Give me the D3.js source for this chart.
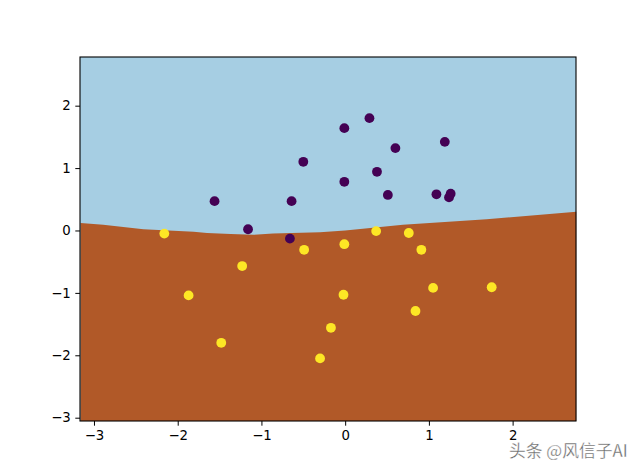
<!DOCTYPE html>
<html>
<head>
<meta charset="utf-8">
<script src="https://d3js.org/d3.v7.min.js"></script>
<style>
html, body { margin: 0; padding: 0; background: white; }
svg { display: block; }
.tick text { font-family: "DejaVu Sans", sans-serif; font-size: 13.3px; fill: #000; }
</style>
</head>
<body>
<div id="chart"></div>
<script>
// Decision regions with two classes of points

var xTicks = [-3, -2, -1, 0, 1, 2];
var yTicks = [-3, -2, -1, 0, 1, 2];

// boundary between the two regions
var boundaryX = [-3.16, -2.89, -2.41, -1.81, -1.65, -1.37, -1.10, -0.86, -0.30, 0, 0.69, 1.69, 2.76];
var boundaryY = [0.12, 0.09, 0.02, -0.02, -0.04, -0.056, -0.07, -0.05, -0.03, 0, 0.09, 0.18, 0.30];

var class0X = [-1.56, -0.64, -1.16, -0.66, -0.50, -0.01, -0.01, 0.29, 0.38, 0.60, 0.51, 1.09, 1.19, 1.24, 1.26];
var class0Y = [0.47, 0.47, 0.02, -0.13, 1.10, 1.64, 0.78, 1.80, 0.94, 1.32, 0.57, 0.58, 1.42, 0.53, 0.59];

var class1X = [-2.16, -1.87, -1.48, -1.23, -0.49, -0.01, -0.02, -0.17, -0.30, 0.37, 0.76, 0.91, 0.84, 1.05, 1.75];
var class1Y = [-0.05, -1.04, -1.80, -0.57, -0.31, -0.22, -1.03, -1.56, -2.05, -0.01, -0.04, -0.31, -1.29, -0.92, -0.91];

var width = 640;
var height = 473;
var left = 80, right = 576, top_ = 57, bottom = 421;

var xScale = d3.scaleLinear().domain([-3.167, 2.757]).range([left, right]);
var yScale = d3.scaleLinear().domain([-3.053, 2.78]).range([bottom, top_]);

var svg = d3.select("#chart")
    .append("svg")
    .attr("width", width)
    .attr("height", height);

// Upper region first, lower region painted over it
svg.append("rect")
    .attr("x", left)
    .attr("y", top_)
    .attr("width", right - left)
    .attr("height", bottom - top_)
    .attr("fill", "#a6cee3");

var boundary = boundaryX.map((x, i) => [x, boundaryY[i]]);
var lowerArea = d3.area()
    .x(d => xScale(d[0]))
    .y0(bottom)
    .y1(d => yScale(d[1]));

svg.append("path")
    .attr("d", lowerArea(boundary))
    .attr("fill", "#b15928");

// Points
function drawPoints(xs, ys, color) {
    svg.append("g")
        .selectAll("circle")
        .data(xs.map((x, i) => [x, ys[i]]))
        .enter()
        .append("circle")
        .attr("cx", d => xScale(d[0]))
        .attr("cy", d => yScale(d[1]))
        .attr("r", 4.9)
        .attr("fill", color);
}
drawPoints(class0X, class0Y, "#440154");
drawPoints(class1X, class1Y, "#fde725");

// Axes
var xAxis = d3.axisBottom(xScale).tickValues(xTicks).tickSize(4.7).tickPadding(5)
    .tickFormat(d => String(d).replace("-", "\u2212"));
var yAxis = d3.axisLeft(yScale).tickValues(yTicks).tickSize(4.7).tickPadding(4.5)
    .tickFormat(d => String(d).replace("-", "\u2212"));

svg.append("g").attr("transform", `translate(0,${bottom})`).call(xAxis)
    .call(g => g.select(".domain").remove());
svg.append("g").attr("transform", `translate(${left},0)`).call(yAxis)
    .call(g => g.select(".domain").remove());

// Frame
svg.append("rect")
    .attr("x", left)
    .attr("y", top_)
    .attr("width", right - left)
    .attr("height", bottom - top_)
    .attr("fill", "none")
    .attr("stroke", "#000")
    .attr("stroke-width", 1.1);

// Watermark
svg.append("text")
    .text("头条 @风信子AI")
    .attr("x", 509)
    .attr("y", 457)
    .attr("font-family", "'Noto Sans CJK SC', sans-serif")
    .attr("font-size", 16.8)
    .attr("fill", "#666")
    .attr("stroke", "#fff")
    .attr("stroke-width", 0.3);
</script>
</body>
</html>
